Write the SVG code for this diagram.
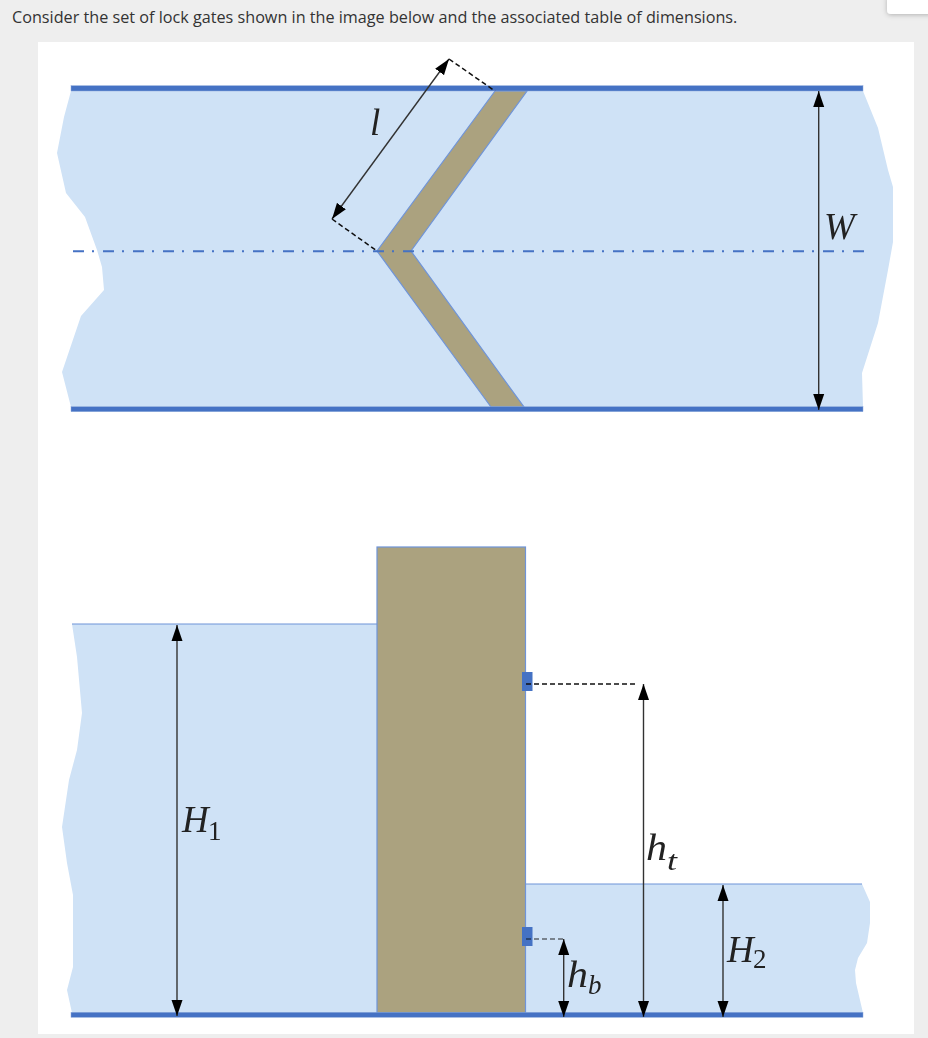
<svg xmlns="http://www.w3.org/2000/svg" width="928" height="1038" viewBox="0 0 928 1038">
<style>
.water{fill:#cfe2f6;stroke:none}
.bed{fill:#4472c4;stroke:#8ea9db;stroke-width:.5}
.surface{stroke:#6f94d8;stroke-width:1.2;fill:none}
.gate{fill:#aba27f;stroke:#6f94d8;stroke-width:1.2}
.dim{stroke:#333;stroke-width:1.4;fill:none;marker-start:url(#ah);marker-end:url(#ah)}
.lead{stroke:#111;stroke-width:1.5;stroke-dasharray:5 3;fill:none}
.math{font-family:"Liberation Serif",serif;font-style:italic;fill:#222;font-size:37px}
.sub{font-size:27px}
.upright{font-style:normal}
.port{fill:#4472c4}
</style>
<defs>
<marker id="ah" markerUnits="userSpaceOnUse" markerWidth="17" markerHeight="12" refX="16" refY="6" orient="auto-start-reverse"><path d="M0 0.500L16 6L0 11.500Z" fill="#000"/></marker>
<filter id="shadow" x="-30%" y="-50%" width="160%" height="250%"><feDropShadow dx="0" dy="1" stdDeviation="2.5" flood-color="#000" flood-opacity=".25"/></filter>
<filter id="soft" x="-2%" y="-2%" width="104%" height="104%"><feGaussianBlur stdDeviation=".35"/></filter>
</defs>
<rect width="928" height="1038" fill="#eeeeee"/>
<g id="corner-tab"><path d="M887 -4H932V14H891Q887 14 887 10Z" fill="#fff" filter="url(#shadow)"/></g>
<text id="prompt" x="12" y="23" font-family="'Open Sans',sans-serif" font-size="16.2" fill="#333">Consider the set of lock gates shown in the image below and the associated table of dimensions.</text>
<rect id="panel" x="38" y="42" width="876" height="992" fill="#fff"/>
<g filter="url(#soft)">
<g id="plan-view">
<path id="plan-water" class="water" d="M71 91L64 117L57 153L66 193L85 217L97 250L102 267L104 290L81 316L62 372L71 407H863L862 373L878 323L888 270L893 242V187L888 170L878 128L863 91Z"/>
<path id="plan-gate" class="gate" d="M495 91H527L411 251L524 407H491L377 251Z"/>
<rect id="plan-top-wall" class="bed" x="71" y="85.700" width="792" height="5.300"/>
<rect id="plan-bottom-wall" class="bed" x="71" y="406.700" width="792" height="5"/>
<line id="centerline" x1="73" y1="251.300" x2="864" y2="251.300" stroke="#4472c4" stroke-width="2" stroke-dasharray="11 8 2 9"/>
</g>
<g id="section-view">
<path id="upstream-water" class="water" d="M72 624L77 657L82 713L77 750L69 780L62 827L67 863L73 895V967L67 990L72 1013H377V624Z"/>
<path id="downstream-water" class="water" d="M525 884H862L870 902V923L867 943L858 958L855 970L856 983L863 1013H525Z"/>
<line id="upstream-surface" class="surface" x1="72" y1="624" x2="377" y2="624"/>
<line id="downstream-surface" class="surface" x1="525" y1="884" x2="862" y2="884"/>
<rect id="wall" class="gate" x="377" y="547" width="148.500" height="466"/>
<rect id="section-bed" class="bed" x="71" y="1012.300" width="792" height="5"/>
<rect id="top-port" class="port" x="522" y="672" width="10.500" height="19"/>
<rect id="bottom-port" class="port" x="522" y="927" width="10.500" height="19"/>
</g>
<g id="connectors">
<path class="lead" d="M449 59L495 91"/>
<path class="lead" d="M332 219L377 251"/>
<path class="lead" d="M526 684H638"/>
<path class="lead" d="M526 939H563" stroke-opacity=".6"/>
<line class="dim" x1="449" y1="59" x2="332" y2="219"/>
<line class="dim" x1="818.700" y1="91" x2="818.700" y2="410"/>
<line class="dim" x1="177" y1="625" x2="177" y2="1016"/>
<line class="dim" x1="643.500" y1="684" x2="643.500" y2="1017"/>
<line class="dim" x1="563.700" y1="939" x2="563.700" y2="1017"/>
<line class="dim" x1="723" y1="885" x2="723" y2="1017"/>
</g>
<g id="labels">
<text class="math" x="370" y="135">l</text>
<text class="math" x="824" y="239">W</text>
<text class="math" x="182" y="832">H</text><text class="math sub upright" x="208" y="840">1</text>
<text class="math" x="646" y="860" textLength="21" lengthAdjust="spacingAndGlyphs">h</text><text class="math sub" x="667" y="870" textLength="10" lengthAdjust="spacingAndGlyphs">t</text>
<text class="math" x="567" y="987" textLength="21" lengthAdjust="spacingAndGlyphs">h</text><text class="math sub" x="588" y="994">b</text>
<text class="math" x="727" y="962">H</text><text class="math sub upright" x="753" y="968">2</text>
</g>
</g>
</svg>
